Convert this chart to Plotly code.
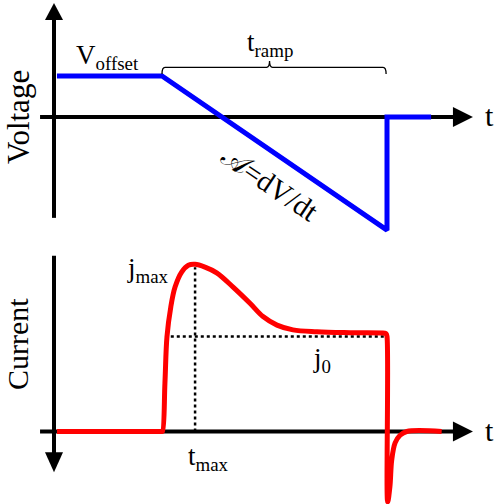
import plotly.graph_objects as go

# ---------------- data ----------------
# time axis units: ramp lasts 10 units, t = 0 at the vertical axis
t_voltage = [0.13, 4.8, 14.8, 14.8, 16.76]
v_voltage = [1.0, 1.0, -2.76, 0.0, 0.0]          # V_offset = 1

t_current = [0.13, 4.78, 4.82, 4.93, 5.02, 5.19, 5.38, 5.68, 5.97, 6.27, 6.71, 7.23,
             7.96, 8.71, 9.29, 9.91, 10.62, 11.69, 13.16, 14.70, 14.76, 14.80,
             14.83, 14.93, 15.01, 15.16, 15.38, 15.68, 17.23]
j_current = [0.0, 0.0, 0.0, 0.51, 0.995, 1.31, 1.52, 1.68, 1.75, 1.76, 1.73, 1.67,
             1.52, 1.35, 1.21, 1.12, 1.07, 1.05, 1.04, 1.035, 1.03, 1.0,
             -0.74, -0.58, -0.30, -0.12, -0.04, 0.0, 0.0]

t_ramp_start, t_ramp_end = 4.8, 14.8
t_max, j_max, j0 = 6.27, 1.73, 1.0
j0_start = 5.19

# axis extents (data units)
T_AXIS_MIN, T_AXIS_TIP = -0.62, 18.62
V_AXIS_MIN, V_AXIS_TIP = -2.46, 2.78
J_AXIS_MAX, J_AXIS_TIP = 1.85, -0.43

# ---------------- mapping of the page ----------------
W, H = 500, 504
PX_T = 22.5      # px per time unit
X0_PX = 54       # px of t = 0
V_ZERO_PX, PX_V = 117, 41
J_ZERO_PX, PX_J = 431.5, 95

FONT = "Liberation Serif, Times New Roman, DejaVu Serif, serif"
BLACK = "#000000"
BLUE = "#0000FF"
RED = "#FF0000"

fig = go.Figure()

def axline(x, y, yaxis):
    fig.add_trace(go.Scatter(x=x, y=y, mode="lines", yaxis=yaxis,
                             line=dict(color=BLACK, width=4),
                             hoverinfo="skip", showlegend=False))

# axes (top panel)
axline([0, 0], [V_AXIS_MIN, V_AXIS_TIP - 14 / PX_V], "y")
axline([T_AXIS_MIN, T_AXIS_TIP - 16 / PX_T], [0, 0], "y")
# axes (bottom panel)
axline([0, 0], [J_AXIS_MAX, J_AXIS_TIP + 14 / PX_J], "y2")
axline([T_AXIS_MIN, T_AXIS_TIP - 16 / PX_T], [0, 0], "y2")

# dotted guides
dot = dict(color=BLACK, width=2.5, dash="dot")
fig.add_trace(go.Scatter(x=[t_max, t_max], y=[0, j_max], mode="lines", yaxis="y2",
                         line=dot, hoverinfo="skip", showlegend=False))
fig.add_trace(go.Scatter(x=[j0_start, t_ramp_end], y=[j0, j0], mode="lines", yaxis="y2",
                         line=dot, hoverinfo="skip", showlegend=False))

# voltage
fig.add_trace(go.Scatter(x=t_voltage, y=v_voltage, mode="lines", yaxis="y",
                         line=dict(color=BLUE, width=5), hoverinfo="skip",
                         showlegend=False))
# current
fig.add_trace(go.Scatter(x=t_current, y=j_current, mode="lines", yaxis="y2",
                         line=dict(color=RED, width=5, shape="spline", smoothing=1.0),
                         hoverinfo="skip", showlegend=False))

# arrow heads (pixel sized, anchored at the tips)
def head(xa, ya, yref, path):
    return dict(type="path", xref="x", yref=yref, xsizemode="pixel", ysizemode="pixel",
                xanchor=xa, yanchor=ya, path=path, fillcolor=BLACK,
                line=dict(color=BLACK, width=0), layer="below")

RIGHT = "M0,0 L-20,10 L-20,-10 Z"
UP = "M0,0 L-9,-17 L9,-17 Z"
DOWN = "M0,0 L-9,20 L9,20 Z"
shapes = [
    head(0, V_AXIS_TIP, "y", UP),
    head(T_AXIS_TIP, 0, "y", RIGHT),
    head(0, J_AXIS_TIP, "y2", DOWN),
    head(T_AXIS_TIP, 0, "y2", RIGHT),
]

# brace over the ramp
by0 = v_voltage[0] + 2 / PX_V
by1 = v_voltage[0] + 8.7 / PX_V
bym = v_voltage[0] + 15 / PX_V
tmid = (t_ramp_start + t_ramp_end) / 2 - 0.22
dx = 3 / PX_T
brace = (f"M{t_ramp_start},{by0} Q{t_ramp_start},{by1} {t_ramp_start+dx},{by1} "
         f"L{tmid-dx},{by1} Q{tmid},{by1} {tmid},{bym} "
         f"Q{tmid},{by1} {tmid+dx},{by1} "
         f"L{t_ramp_end-0.04-dx},{by1} Q{t_ramp_end-0.04},{by1} {t_ramp_end-0.04},{by0}")
shapes.append(dict(type="path", xref="x", yref="y", path=brace,
                   line=dict(color=BLACK, width=1.3)))

def P(px, py):
    return px / W, 1 - py / H

def label(text, px, py, size=27, angle=0):
    x, y = P(px, py)
    return dict(text=text, x=x, y=y, xref="paper", yref="paper", showarrow=False,
                xanchor="center", yanchor="middle", textangle=angle,
                font=dict(family=FONT, size=size, color=BLACK))

annotations = [
    label("Voltage", 18, 117, 31, -90),
    label("Current", 17, 344, 30, -90),
    label("t", 489, 116, 30),
    label("t", 489, 430, 30),
    label("V<sub>offset</sub>", 107, 57),
    label("t<sub>ramp</sub>", 270, 44),
    label("\U0001D49C=dV/dt", 269, 183, 29, 34),
    label("j<sub>max</sub>", 148, 270),
    label("t<sub>max</sub>", 208, 458),
    label("j<sub>0</sub>", 322, 360),
]

x_range = [-X0_PX / PX_T, (W - X0_PX) / PX_T]
v_range = [-(H - V_ZERO_PX) / PX_V, V_ZERO_PX / PX_V]
j_range = [-(H - J_ZERO_PX) / PX_J, J_ZERO_PX / PX_J]

fig.update_layout(
    width=W, height=H, autosize=False,
    margin=dict(l=0, r=0, t=0, b=0, pad=0),
    paper_bgcolor="white", plot_bgcolor="white",
    xaxis=dict(range=x_range, visible=False, fixedrange=True),
    yaxis=dict(range=v_range, visible=False, fixedrange=True),
    yaxis2=dict(range=j_range, visible=False, fixedrange=True, overlaying="y"),
    shapes=shapes, annotations=annotations, showlegend=False,
)

fig.write_html("out.html", config={"displayModeBar": False},
               post_script="document.body.style.margin='0';"
                           "document.body.style.overflow='hidden';")
